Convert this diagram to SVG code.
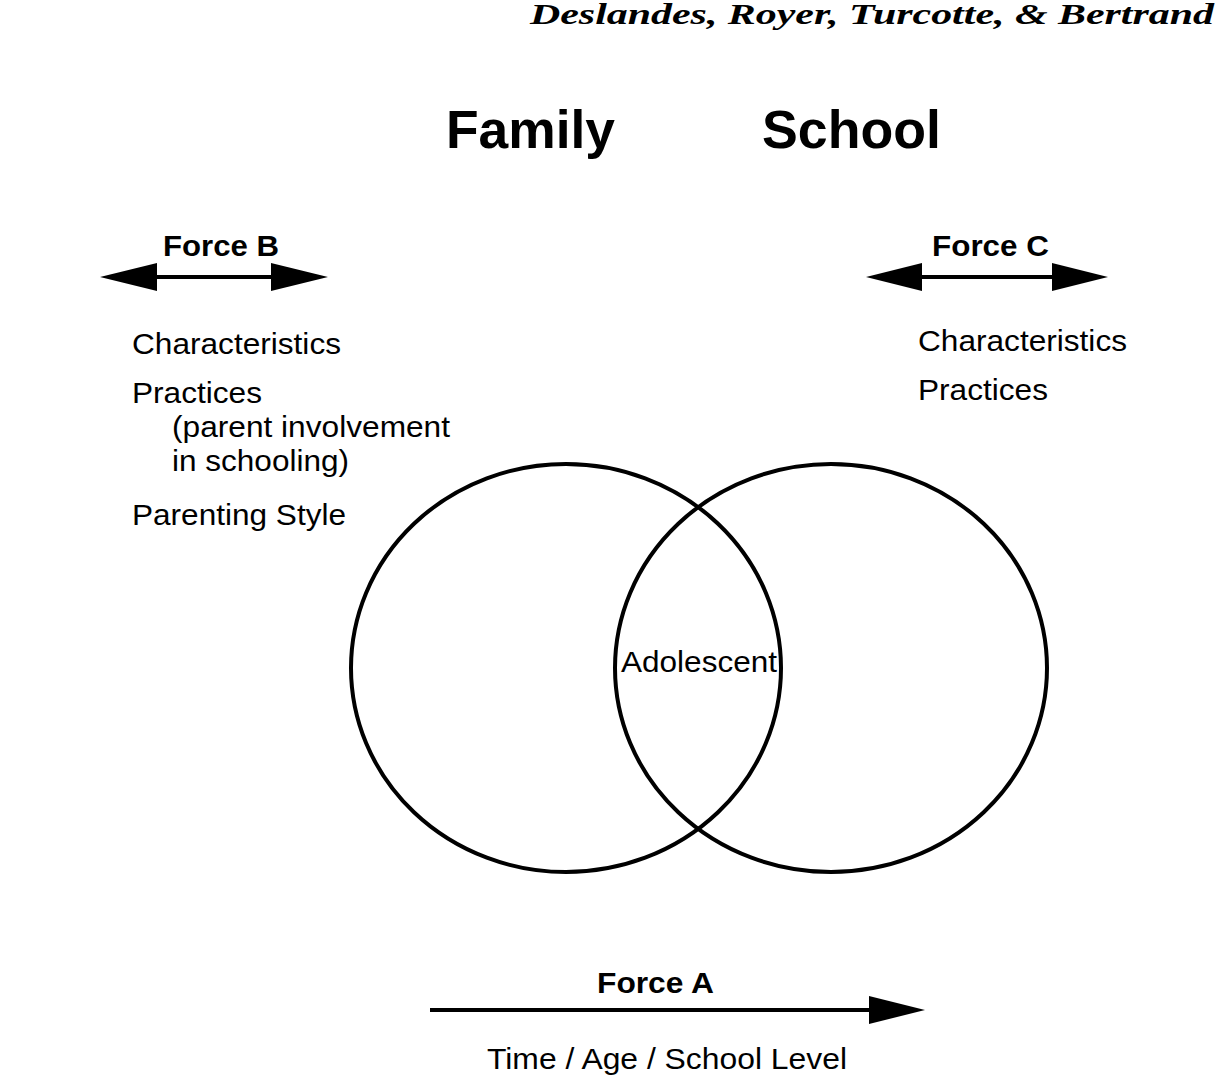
<svg xmlns="http://www.w3.org/2000/svg" width="1226" height="1084" viewBox="0 0 1226 1084">
<style>
.t{font-family:"Liberation Sans",Arial,sans-serif;font-size:30px;fill:#000}
.b{font-family:"Liberation Sans",Arial,sans-serif;font-weight:bold;fill:#000}
.ln{stroke:#000;stroke-width:4;fill:none}
.hd{fill:#000}
</style>
<rect width="1226" height="1084" fill="#fff"/>
<text x="530" y="24" font-family="'Liberation Serif',serif" font-style="italic" font-weight="bold" font-size="29" textLength="684" lengthAdjust="spacingAndGlyphs">Deslandes, Royer, Turcotte, &amp; Bertrand</text>
<text class="b" x="446" y="148" font-size="53" textLength="169" lengthAdjust="spacingAndGlyphs">Family</text>
<text class="b" x="762" y="148" font-size="53" textLength="179" lengthAdjust="spacingAndGlyphs">School</text>
<g id="family-circle"><ellipse class="ln" cx="566" cy="668" rx="215" ry="204"/></g>
<g id="school-circle"><ellipse class="ln" cx="831" cy="668" rx="216" ry="204"/></g>
<g id="adolescent"><text class="t" x="621" y="672" textLength="156" lengthAdjust="spacingAndGlyphs">Adolescent</text></g>
<g id="family-list">
<text class="t" x="132" y="354" textLength="209" lengthAdjust="spacingAndGlyphs">Characteristics</text>
<text class="t" x="132" y="403" textLength="130" lengthAdjust="spacingAndGlyphs">Practices</text>
<text class="t" x="172" y="437" textLength="278" lengthAdjust="spacingAndGlyphs">(parent involvement</text>
<text class="t" x="172" y="471" textLength="177" lengthAdjust="spacingAndGlyphs">in schooling)</text>
<text class="t" x="132" y="525" textLength="214" lengthAdjust="spacingAndGlyphs">Parenting Style</text>
</g>
<g id="school-list">
<text class="t" x="918" y="351" textLength="209" lengthAdjust="spacingAndGlyphs">Characteristics</text>
<text class="t" x="918" y="400" textLength="130" lengthAdjust="spacingAndGlyphs">Practices</text>
</g>
<g id="connectors">
<g id="force-b">
<line class="ln" x1="150" y1="277" x2="280" y2="277"/>
<polygon class="hd" points="100,277 157,263 157,291"/>
<polygon class="hd" points="328,277 271,263 271,291"/>
<text class="b" x="163" y="256" font-size="29" textLength="116" lengthAdjust="spacingAndGlyphs">Force B</text>
</g>
<g id="force-c">
<line class="ln" x1="915" y1="277" x2="1060" y2="277"/>
<polygon class="hd" points="866,277 922,263 922,291"/>
<polygon class="hd" points="1108,277 1052,263 1052,291"/>
<text class="b" x="932" y="256" font-size="29" textLength="117" lengthAdjust="spacingAndGlyphs">Force C</text>
</g>
<g id="force-a">
<line class="ln" x1="430" y1="1010" x2="875" y2="1010"/>
<polygon class="hd" points="925,1010 869,996 869,1024"/>
<text class="b" x="597" y="993" font-size="29" textLength="117" lengthAdjust="spacingAndGlyphs">Force A</text>
<text class="t" x="487" y="1069" textLength="360" lengthAdjust="spacingAndGlyphs">Time / Age / School Level</text>
</g>
</g>
</svg>
